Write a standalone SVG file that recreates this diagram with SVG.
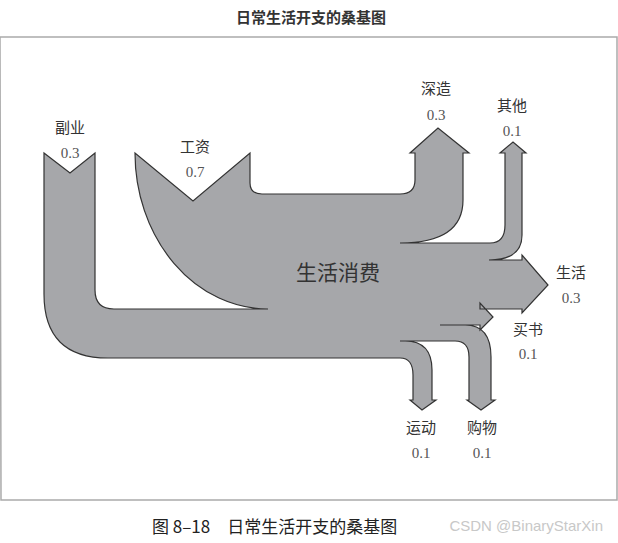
<svg xmlns="http://www.w3.org/2000/svg" width="618" height="543" viewBox="0 0 618 543">
<style>
.t{font-family:"Liberation Serif","Noto Sans CJK SC",serif;font-size:15px;fill:#333;text-anchor:middle}
.n{font-family:"Liberation Serif","Noto Sans CJK SC",serif;font-size:15px;fill:#555;text-anchor:middle}
.s{font-family:"Noto Sans CJK SC",sans-serif;fill:#333;text-anchor:middle}
</style>
<rect width="618" height="543" fill="#fff"/>
<text x="311" y="23" class="t" font-weight="bold">日常生活开支的桑基图</text>
<path d="M0,37 H617 V500 H1 Z" fill="none" stroke="#aaa" stroke-width="1.5"/>
<g id="connectors">
<path fill="#a6a7aa" stroke="#333" stroke-width="1.2" stroke-linejoin="miter" d="M44,153 L70,173 L95,153 L95,290 Q95,309 114,309 L268,309 A133,156 0 0 1 135,153 L193,201 L250,153 L250,183 Q250,194 262,194 L400,194 Q415,194 415,180 L415,153 L410,153 L438,128 L469,153 L463,153 L463,200 Q463,243 400,243 L490,243 Q505,243 505,225 L505,153 L500,153 L513,142 L526,153 L522,153 L522,235 Q522,260 489,260 L522,260 L522,255 L548,285 L522,313 L522,309 L480,309 L480,303 L493,317 L480,330 L480,325 L440,325 L465,325 Q491,325 491,357 L491,400 L495,400 L481,410 L467,400 L469,400 L469,357 Q469,341 455,341 L400,341 L405,341 Q432,341 432,370 L432,400 L436,400 L422,410 L410,400 L413,400 L413,375 Q413,358 400,358 L108,358 Q44,358 44,294 Z"/>
</g>
<g id="fuye"><text x="70" y="133" class="t">副业</text><text x="70" y="158" class="n">0.3</text></g>
<g id="gongzi"><text x="195" y="152" class="t">工资</text><text x="195" y="177" class="n">0.7</text></g>
<g id="shenzao"><text x="436" y="94" class="t">深造</text><text x="436" y="120" class="n">0.3</text></g>
<g id="qita"><text x="512" y="111" class="t">其他</text><text x="512" y="136" class="n">0.1</text></g>
<g id="shenghuoxiaofei"><text x="338" y="280" class="s" font-size="21">生活消费</text></g>
<g id="shenghuo"><text x="571" y="278" class="t">生活</text><text x="571" y="303" class="n">0.3</text></g>
<g id="maishu"><text x="528" y="335" class="t">买书</text><text x="528" y="359" class="n">0.1</text></g>
<g id="yundong"><text x="421" y="433" class="t">运动</text><text x="421" y="458" class="n">0.1</text></g>
<g id="gouwu"><text x="482" y="433" class="t">购物</text><text x="482" y="458" class="n">0.1</text></g>
<text x="152" y="533" font-family="Noto Sans CJK SC,sans-serif" font-size="17" fill="#222">图 8–18　日常生活开支的桑基图</text>
<text x="603" y="531" font-family="Liberation Sans,sans-serif" font-size="15" fill="#c8c8c8" text-anchor="end">CSDN @BinaryStarXin</text>
</svg>
